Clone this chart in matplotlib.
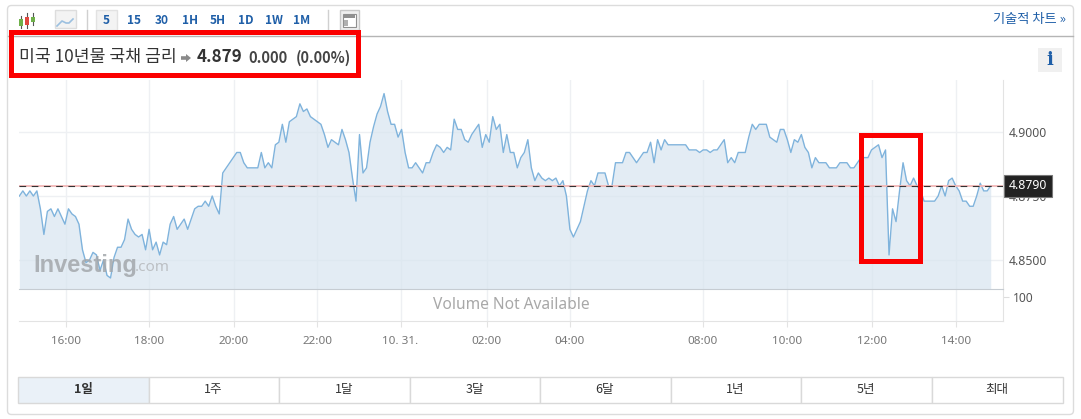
import matplotlib
matplotlib.use("Agg")
import matplotlib.pyplot as plt
from matplotlib.patches import Rectangle, FancyBboxPatch, FancyArrow

plt.rcParams['font.family'] = ['Noto Sans CJK KR', 'DejaVu Sans']

# ======================
# data
# ======================
yields = [
    4.875, 4.877, 4.875, 4.877, 4.875, 4.877, 4.870, 4.860, 4.869, 4.870, 4.867, 4.870,
    4.867, 4.864, 4.870, 4.868, 4.867, 4.864, 4.854, 4.849, 4.850, 4.853, 4.852, 4.846,
    4.850, 4.844, 4.843, 4.851, 4.855, 4.855, 4.858, 4.866, 4.862, 4.860, 4.859, 4.860,
    4.854, 4.862, 4.854, 4.857, 4.852, 4.857, 4.856, 4.864, 4.867, 4.862, 4.864, 4.866,
    4.862, 4.866, 4.870, 4.871, 4.871, 4.873, 4.871, 4.875, 4.871, 4.868, 4.884, 4.886,
    4.888, 4.890, 4.892, 4.892, 4.888, 4.886, 4.886, 4.886, 4.886, 4.892, 4.886, 4.888,
    4.886, 4.895, 4.896, 4.903, 4.896, 4.904, 4.905, 4.906, 4.911, 4.908, 4.909, 4.906,
    4.905, 4.904, 4.903, 4.899, 4.894, 4.897, 4.896, 4.895, 4.901, 4.897, 4.892, 4.882,
    4.873, 4.899, 4.884, 4.886, 4.896, 4.902, 4.907, 4.910, 4.915, 4.908, 4.903, 4.903,
    4.898, 4.901, 4.892, 4.886, 4.886, 4.888, 4.886, 4.884, 4.888, 4.888, 4.892, 4.895,
    4.894, 4.892, 4.894, 4.893, 4.905, 4.901, 4.901, 4.897, 4.896, 4.899, 4.901, 4.903,
    4.894, 4.899, 4.896, 4.906, 4.901, 4.903, 4.892, 4.899, 4.892, 4.892, 4.886, 4.890,
    4.892, 4.897, 4.886, 4.881, 4.884, 4.882, 4.881, 4.882, 4.881, 4.882, 4.879, 4.881,
    4.875, 4.862, 4.859, 4.862, 4.865, 4.871, 4.877, 4.881, 4.879, 4.884, 4.884, 4.884,
    4.879, 4.879, 4.888, 4.888, 4.888, 4.892, 4.892, 4.890, 4.888, 4.890, 4.892, 4.892,
    4.896, 4.888, 4.897, 4.893, 4.897, 4.895, 4.895, 4.895, 4.895, 4.895, 4.895, 4.893,
    4.893, 4.893, 4.892, 4.893, 4.893, 4.892, 4.893, 4.893, 4.895, 4.897, 4.888, 4.890,
    4.888, 4.892, 4.892, 4.892, 4.898, 4.903, 4.901, 4.903, 4.903, 4.903, 4.898, 4.897,
    4.896, 4.901, 4.901, 4.897, 4.892, 4.897, 4.896, 4.899, 4.894, 4.892, 4.886, 4.890,
    4.888, 4.888, 4.888, 4.886, 4.886, 4.886, 4.888, 4.888, 4.888, 4.886, 4.886, 4.888,
    4.890, 4.890, 4.890, 4.893, 4.894, 4.895, 4.890, 4.893, 4.852, 4.870, 4.865, 4.877,
    4.888, 4.881, 4.879, 4.882, 4.879, 4.877, 4.873, 4.873, 4.873, 4.873, 4.875, 4.879,
    4.875, 4.881, 4.882, 4.879, 4.877, 4.873, 4.873, 4.871, 4.871, 4.875, 4.880, 4.877,
    4.877, 4.879,
]
last_value = 4.879
y_ticks = [4.85, 4.875, 4.90]
y_tick_labels = ["4.8500", "4.8750", "4.9000"]

x_ticks = [13.2, 37.1, 61.1, 84.9, 108.7, 133.3, 157, 194.9, 218.9, 243.1, 267.1]
x_labels = ["16:00", "18:00", "20:00", "22:00", "10. 31.", "02:00", "04:00",
            "08:00", "10:00", "12:00", "14:00"]

interval_labels = ["5", "15", "30", "1H", "5H", "1D", "1W", "1M"]
range_labels = ["1일", "1주", "1달", "3달", "6달", "1년", "5년", "최대"]

W, H = 1081, 419
BLUE = "#1f5fa8"
GREY = "#777777"
GRID = "#eef0f3"
RED = "#fb0000"


def px_axes(left, top, right, bottom, **kw):
    return fig.add_axes([left / W, 1 - bottom / H, (right - left) / W, (bottom - top) / H], **kw)


fig = plt.figure(figsize=(W / 100, H / 100), dpi=100, facecolor="white")

# page furniture, in pixels
bg = px_axes(0, 0, W, H, zorder=0)
bg.set_xlim(0, W)
bg.set_ylim(H, 0)
bg.axis("off")
bg.add_patch(FancyBboxPatch((7.5, 5.5), 1066, 409, boxstyle="round,pad=0,rounding_size=4",
                            fc="white", ec="#dcdcdc", lw=1))
bg.plot([7.5, 1073], [36.5, 36.5], color="#b5b5b5", lw=1)

# toolbar icons
for x, y0, y1, c, wick0, wick1 in [(21, 19, 26, "#6fb04a", 16, 28), (27, 17, 25, "#e0473f", 13, 28),
                                   (33, 17, 22, "#6fb04a", 13, 25)]:
    bg.plot([x, x], [wick0, wick1], color="#555555", lw=0.8)
    bg.add_patch(Rectangle((x - 2, y0), 4, y1 - y0, fc=c, ec="none", zorder=3))
bg.add_patch(Rectangle((54.5, 10.5), 21, 18, fc="#f3f3f3", ec="#dddddd", lw=1))
bg.plot([57, 62, 66, 69, 73], [26, 21, 23, 23, 19], color="#9cc0e0", lw=1.2)
for x in [86.5, 327.5]:
    bg.plot([x, x], [10, 30], color="#d0d0d0", lw=1)
bg.add_patch(Rectangle((95.5, 10.5), 21, 20, fc="#f3f3f3", ec="#e2e2e2", lw=1))
for i, lab in enumerate(interval_labels):
    bg.text(106 + 28 * i, 20.5, lab, color=BLUE, fontsize=8.6, fontweight="bold", ha="center", va="center")
bg.add_patch(Rectangle((339.5, 10.5), 19, 20, fc="#efefef", ec="#c8c8c8", lw=1))
bg.add_patch(Rectangle((342.5, 14.5), 13, 13, fc="white", ec="#909090", lw=0.8))
bg.add_patch(Rectangle((343, 15), 12, 3, fc="#909090", ec="none"))
bg.add_patch(Rectangle((344, 20), 4, 6, fc="#b0b0b0", ec="none"))
bg.text(1066, 20, "기술적 차트 »", color=BLUE, fontsize=9.5, ha="right", va="center")

# header
bg.text(19, 57, "미국 10년물 국채 금리", color="#333333", fontsize=12.4, va="center")
bg.add_patch(FancyArrow(181, 58, 10, 0, width=3.6, head_width=8, head_length=5,
                        length_includes_head=True, fc="#8a8a8a", ec="none"))
bg.text(197, 57.5, "4.879", color="#333333", fontsize=12.2, fontweight="bold", va="center")
bg.text(248, 58, "0.000", color="#444444", fontsize=10.6, fontweight="bold", va="center")
bg.text(296, 58, "(0.00%)", color="#444444", fontsize=10.5, fontweight="bold", va="center")
bg.add_patch(Rectangle((1038, 48), 24, 24, fc="#f0f0f0", ec="none"))
bg.text(1050, 60, "i", color=BLUE, fontsize=13, fontweight="bold", family="DejaVu Serif",
        ha="center", va="center")

# range buttons
edges = [17.5, 148.5, 278.5, 409.5, 539.5, 670.5, 800.5, 931.5, 1062.5]
for i, lab in enumerate(range_labels):
    bg.add_patch(Rectangle((edges[i], 376.5), edges[i + 1] - edges[i], 26.5,
                           fc="#eaf1f8" if i == 0 else "white", ec="#d9d9d9", lw=1))
    bg.text((edges[i] + edges[i + 1]) / 2, 389.5, lab, color="#333333", fontsize=9,
            fontweight="bold" if i == 0 else "normal", ha="center", va="center")

# ======================
# price panel
# ======================
n = len(yields)
xs = list(range(n))
x_min, x_max = -0.1, 280.5   # about 3.5 px per 5 minute bar
y_min, y_max = 4.8387, 4.9203

ax = px_axes(19, 80, 1003, 289, zorder=2)
ax.set_facecolor("none")
ax.set_xlim(x_min, x_max)
ax.set_ylim(y_min, y_max)
ax.fill_between(xs, yields, y_min, color="#d9e5f0", alpha=0.72, lw=0, zorder=1)
ax.plot(xs, yields, color="#7fb3dc", lw=1, zorder=3)
ax.axhline(last_value, color="#f2b8b8", lw=1.3, zorder=3)
ax.axhline(last_value, color="#333333", lw=0.8, dashes=(6, 5), zorder=4)
ax.set_xticks(x_ticks)
ax.set_yticks(y_ticks)
ax.set_yticklabels(y_tick_labels)
ax.grid(True, color=GRID, lw=1, zorder=0.5)
ax.set_axisbelow(True)
ax.tick_params(axis="x", length=0, labelbottom=False)
ax.tick_params(axis="y", length=0, pad=4.5, labelleft=False, labelright=True, labelsize=8.8, labelcolor="#555555")
for lab in ax.get_yticklabels():
    lab.set_family(["Noto Sans", "DejaVu Sans"])
for side in ["top", "left"]:
    ax.spines[side].set_visible(False)
ax.spines["right"].set_color("#e3e3e3")
ax.spines["bottom"].set_color("#c6ccd2")

# watermark and last price tag
ax.text(33, 265, "Investing", color="#a3a7ab", alpha=0.85, fontsize=17, fontweight="bold",
        family=["Liberation Sans", "DejaVu Sans"], ha="left", va="center",
        transform=bg.transData, zorder=5)
ax.text(135, 267, ".com", color="#bcc0c4", fontsize=11, family=["Noto Sans", "DejaVu Sans"],
        ha="left", va="center", transform=bg.transData, zorder=5)
ax.annotate("4.8790", xy=(1, last_value), xycoords=ax.get_yaxis_transform(), xytext=(4.3, 0),
            textcoords="offset points", color="white", fontsize=8.8, fontweight="bold",
            family=["Noto Sans", "DejaVu Sans"], ha="left", va="center", annotation_clip=False,
            bbox=dict(boxstyle="square,pad=0.38", fc="#222222", ec="#777777", lw=0.8), zorder=6)

# ======================
# volume panel
# ======================
vol = px_axes(19, 289, 1003, 321, zorder=1)
vol.set_xlim(x_min, x_max)
vol.set_ylim(0, 1)
vol.set_xticks(x_ticks)
vol.set_xticklabels(x_labels)
vol.set_yticks([0.75])
vol.set_yticklabels(["100"])
vol.grid(True, axis="x", color=GRID, lw=1)
vol.tick_params(axis="x", length=4, color="#e3e3e3", pad=7, labelsize=8.4, labelcolor=GREY)
vol.tick_params(axis="y", length=4, color="#dddddd", left=False, right=True, labelleft=False, labelright=True,
                pad=3, labelsize=8.6, labelcolor="#555555")
for lab in vol.get_xticklabels() + vol.get_yticklabels():
    lab.set_family(["Noto Sans", "DejaVu Sans"])
for side in ["top", "left"]:
    vol.spines[side].set_visible(False)
for side in ["right", "bottom"]:
    vol.spines[side].set_color("#e3e3e3")
vol.text(0.5, 0.5, "Volume Not Available", transform=vol.transAxes, color="#a8a8a8", fontsize=11.2,
         family=["Noto Sans", "DejaVu Sans"], ha="center", va="center")

# red marks drawn over everything
top = px_axes(0, 0, W, H, zorder=5)
top.set_xlim(0, W)
top.set_ylim(H, 0)
top.axis("off")
top.patch.set_alpha(0)
top.add_patch(Rectangle((10.5, 32.5), 347, 42.5, fc="none", ec=RED, lw=3.6))
top.add_patch(Rectangle((861, 135), 58.5, 125.5, fc="none", ec=RED, lw=3.6))

fig.savefig("out.png", dpi=100)
